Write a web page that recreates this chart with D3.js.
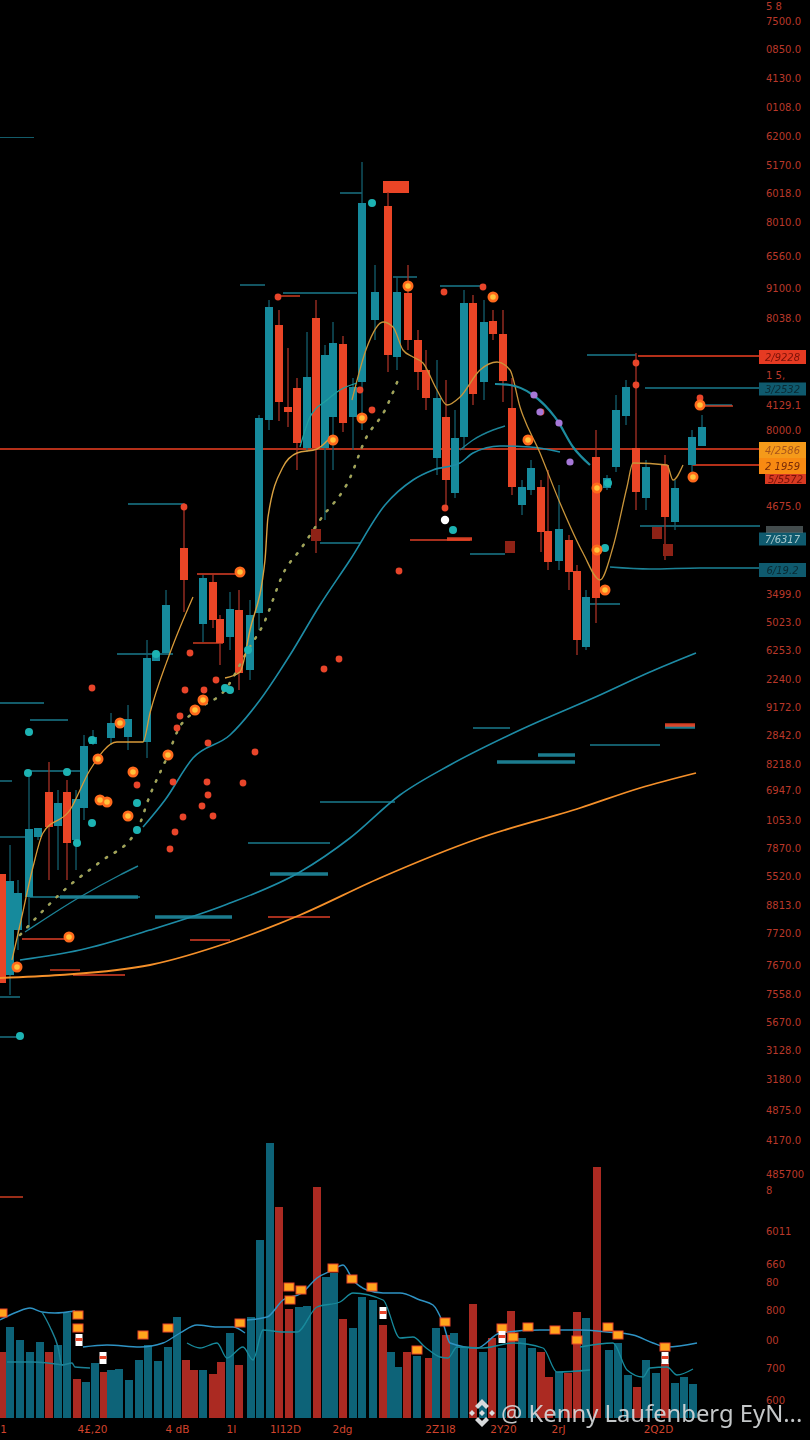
<!DOCTYPE html>
<html><head><meta charset="utf-8">
<style>html,body{margin:0;padding:0;background:#000;overflow:hidden}svg{display:block}</style>
<script src="https://cdn.jsdelivr.net/npm/d3@7/dist/d3.min.js"></script></head>
<body><svg id="c" width="810" height="1440"></svg>
<script>
// ---- candles: time, open, close, high, low (rising = teal, falling = red)
const candleTime=[2,10,18,29,38,49,58,67,76,84,93,111,128,147,156,166,184,203,213,220,230,239,250,259,269,279,288,297,307,316,325,333,343,353,362,375,388,397,408,418,426,437,446,455,464,473,484,493,503,512,522,531,541,548,559,569,577,586,596,607,616,626,636,646,665,675,692,702];
const candleOpen=[566,465,510,543,603,648,614,648,600,632,696,702,703,698,779,787,892,816,858,821,803,830,770,827,1020,1115,1033,1052,992,1122,992,1023,1096,1023,1058,1120,1234,1083,1147,1100,1070,982,1023,947,1003,1137,1058,1119,1106,1032,935,950,953,909,879,900,869,793,983,952,973,1024,992,942,975,918,975,994];
const candleClose=[457,559,547,611,612,613,637,597,641,694,703,717,721,782,786,835,860,862,820,797,831,767,825,1022,1133,1038,1028,997,1063,992,1085,1097,1017,1053,1237,1148,1085,1148,1100,1068,1042,1042,960,1002,1137,1046,1118,1106,1059,953,953,972,908,878,911,868,800,843,842,962,1030,1053,948,973,923,952,1003,1013];
const candleHigh=[566,595,560,670,612,678,650,660,650,705,710,727,735,800,786,850,937,865,866,825,848,850,840,1025,1140,1130,1092,1062,1108,1140,1095,1118,1104,1062,1278,1175,1248,1163,1175,1110,1090,1080,1060,1030,1150,1145,1140,1130,1130,1062,960,980,960,970,955,905,875,850,1010,965,1045,1060,1087,980,985,960,1010,1025];
const candleLow=[457,445,490,510,600,560,570,560,570,620,695,695,690,682,779,786,828,798,812,775,790,750,760,810,1010,1019,1013,970,988,887,920,970,1008,990,1010,1100,1068,1070,1090,1050,1030,965,935,942,990,1035,1040,1100,1038,945,925,945,888,870,870,850,785,790,817,950,968,1015,930,930,880,910,960,1000];

// ---- volume panel
const volTime=[2,10,20,30,40,49,58,67,77,86,95,104,111,119,129,139,148,158,168,177,186,194,203,213,221,230,239,251,260,270,279,289,299,307,317,326,334,343,353,362,373,383,391,398,407,417,429,436,446,454,464,473,483,492,502,511,522,532,541,549,559,568,577,586,597,609,618,628,637,646,656,665,675,684,693];
const volValue=[66,91,78,66,76,66,73,105,39,36,55,46,48,49,38,58,73,57,71,101,58,48,48,44,56,85,53,101,178,275,211,109,111,112,231,141,145,99,90,121,118,93,66,51,66,62,60,90,83,85,70,114,66,80,70,107,80,70,66,41,46,45,106,100,251,68,75,43,31,58,45,55,35,41,34];
const volSide=["r","t","t","t","t","r","t","t","r","t","t","r","t","t","t","t","t","t","t","t","r","r","t","r","r","t","r","t","t","t","r","r","t","t","r","t","t","r","t","t","t","r","t","t","r","t","r","t","r","t","t","r","t","r","t","r","t","t","r","r","t","r","r","t","r","t","t","t","r","t","t","r","t","t","t"];

// ---- moving averages and overlays: [time, level]
const longOrange=[[0,462],[60,465],[150,475],[230,498],[300,525],[380,562],[480,602],[580,632],[640,652],[696,667]];
const midBlue=[[20,480],[80,490],[150,510],[225,535],[300,568],[350,602],[400,645],[450,675],[520,710],[600,745],[650,768],[696,787]];
const tealRise=[[143,613],[165,640],[193,682],[230,705],[260,740],[290,785],[320,835],[350,880],[385,935],[413,960],[433,970],[460,977],[473,987],[500,994],[530,993],[560,988]];
const tealLow=[[25,508],[80,543],[120,565],[138,574]];
const dottedDiag=[[20,505],[70,555],[100,578],[137,610],[150,645],[168,685],[178,710],[197,730],[225,750],[248,790],[263,815],[285,870],[300,890],[320,920],[350,962],[365,1000],[385,1030],[400,1065]];
const shortA=[[12,480],[20,515],[33,573],[43,607],[70,630],[90,670],[117,698],[143,698],[150,727],[170,787],[193,843]];
const shortB=[[225,762],[240,768],[250,810],[265,880],[268,923],[283,973],[297,987],[317,991],[328,1000]];
const shortC=[[352,1040],[367,1093],[383,1118],[393,1113],[403,1090],[413,1083],[423,1077],[437,1050],[447,1035],[460,1043],[480,1070],[497,1078],[510,1070],[520,1033],[540,987],[560,937],[583,887],[600,860],[613,893],[627,953],[633,977],[667,975],[673,960],[683,975]];
const tealShort=[[300,993],[310,1023],[327,1040],[340,1050],[357,1057]];
const tealDesc=[[495,1056],[510,1055],[533,1045],[557,1020],[573,993],[590,975]];
const tealArc=[[460,990],[473,1000],[493,1010],[505,1014]];
const rightTeal=[[610,873],[650,871],[700,872],[760,872]];
const volUpper=[[0,120],[17,128],[30,132],[42,128],[55,127],[75,129]];
const volDrop=[[42,128],[50,113],[58,93],[62,75],[72,77],[75,73],[90,72]];
const volMain=[[83,93],[107,95],[140,93],[163,97],[180,107],[197,115],[217,113],[233,113],[245,107]];
const volMain2=[[247,120],[267,123],[283,140],[302,147],[317,162],[333,170],[343,175],[353,160],[367,150],[383,147],[400,147],[420,140],[433,135],[443,117],[450,97],[477,92],[500,107],[540,110],[580,110],[607,108],[633,105],[653,97],[667,93],[697,97]];
const volTealA=[[7,78],[33,78],[63,75]];
const volTealB=[[187,97],[200,92],[217,97],[227,82],[243,93],[253,80],[263,110],[283,108],[297,108],[317,133],[340,138],[353,147],[383,140],[400,102],[413,103],[425,93],[440,83],[448,82],[457,93],[483,92],[513,97],[543,92],[557,68],[590,70]];
const volTealC=[[580,93],[613,97],[627,70],[643,63],[650,72],[667,73],[677,65],[693,71]];

// ---- horizontal levels: [from, to, level]
const levelTeal=[[0,34,1303],[340,362,1247],[128,184,936],[0,44,737],[30,68,720],[117,173,786],[240,265,1155],[283,357,1147],[393,417,1163],[440,483,1154],[587,636,1085],[645,760,1052],[640,760,914],[700,732,1035],[473,510,712],[590,660,695],[320,395,638],[248,330,597],[30,140,543],[0,20,443],[0,20,403],[320,360,897],[470,505,886],[585,620,836],[0,12,659],[0,28,603],[30,80,669]];
const levelTealThick=[[270,328,566],[155,232,523],[60,138,543],[497,575,678],[538,575,685],[665,695,713]];
const levelRedMain=[[0,760,991],[638,760,1084],[692,760,975]];
const levelRed=[[22,65,501],[190,230,500],[268,330,523],[50,80,470],[73,125,465],[410,470,900],[193,223,797],[197,240,866],[275,300,1144],[705,733,1034],[0,23,243]];
const levelRedThick=[[447,472,901],[665,695,715]];
const blockRed=[[383,409,1253]];

// ---- scattered markers: [time, level]
const redDots=[[92,752],[184,933],[180,724],[177,712],[208,697],[255,688],[207,658],[243,657],[208,645],[202,634],[213,624],[183,623],[175,608],[170,591],[137,655],[173,658],[324,771],[339,781],[399,869],[278,1143],[444,1148],[483,1153],[541,1028],[636,1077],[636,1055],[700,1042],[445,932],[190,787],[216,760],[204,750],[185,750],[360,1050],[372,1030]];
const hotDots=[[98,681],[107,638],[133,668],[128,624],[120,717],[168,685],[195,730],[203,740],[69,503],[17,473],[408,1154],[493,1143],[333,1000],[362,1022],[700,1035],[528,1000],[597,952],[605,850],[597,890],[693,963],[240,868],[100,640]];
const tealDots=[[29,708],[28,667],[67,668],[137,637],[137,610],[77,597],[20,404],[92,700],[92,617],[372,1237],[453,910],[605,892],[608,957],[230,750],[156,786],[248,790],[225,752]];
const purpleDots=[[534,1045],[559,1017],[570,978],[540,1028]];
const whiteDots=[[445,920]];
const darkRects=[[510,893],[657,907],[668,890],[316,905]];
const volHot=[[2,127],[78,125],[78,112],[143,105],[168,112],[240,117],[289,153],[290,140],[301,150],[333,172],[352,161],[372,153],[417,90],[445,118],[513,103],[528,113],[555,110],[577,100],[608,113],[618,105],[665,93],[502,112]];
const volStripe=[[79,100],[103,82],[383,127],[502,103],[665,82]];

// ---- labels
const axisLabels=["5 8","7500.0","0850.0","4130.0","0108.0","6200.0","5170.0","6018.0","8010.0","6560.0","9100.0","8038.0","1 5,","4129.1","8000.0","4675.0","3499.0","5023.0","6253.0","2240.0","9172.0","2842.0","8218.0","6947.0","1053.0","7870.0","5520.0","8813.0","7720.0","7670.0","7558.0","5670.0","3128.0","3180.0","4875.0","4170.0","485700","8","6011","660","80","800","00","700","600"];
const axisLevels=[1434,1419,1391,1362,1333,1304,1275,1247,1218,1184,1152,1122,1065,1035,1010,934,846,818,790,761,733,705,676,650,620,592,564,535,507,475,446,418,390,361,330,300,266,250,209,176,158,130,100,72,40];
const boxLabels=["2/9228","3/2532","4/2586","2 1959","5/5572","7/6317","6/19.2"];
const timeTicks=[3,92,177,231,285,342,440,503,558,658];
const timeLabels=["1","4£,20","4 dB","1I","1I12D","2dg","2Z1I8","2Y20","2rJ","2Q2D"];

// ---- drawing
const width=810,height=1440;
const x=d3.scaleLinear().domain([0,810]).range([0,width]);
const y=d3.scaleLinear().domain([0,1440]).range([height,0]);
const vol=d3.scaleLinear().domain([0,275]).range([1418,1143]);
const col={teal:"#178a9c",red:"#ea4527",volT:"#0f6478",volR:"#ab2a20",thinT:"#1c8296",orange:"#f08a24",blue:"#2f93c4",hot:"#ffa51e"};
const svg=d3.select("#c");
const defs=svg.append("defs");
defs.append("filter").attr("id","soft").attr("x",0).attr("y",0).attr("width",1).attr("height",1).attr("filterUnits","objectBoundingBox")
  .append("feGaussianBlur").attr("stdDeviation",0.45);
svg.append("rect").attr("width",width).attr("height",height).attr("fill","#000");
const g=svg.append("g").attr("filter","url(#soft)");

// volume bars
g.append("g").selectAll("rect").data(volTime).join("rect")
 .attr("x",d=>x(d)-4).attr("width",8)
 .attr("y",(d,i)=>vol(volValue[i])).attr("height",(d,i)=>vol(0)-vol(volValue[i]))
 .attr("fill",(d,i)=>volSide[i]==="r"?col.volR:col.volT);

const line=d3.line().x(d=>x(d[0])).y(d=>y(d[1])).curve(d3.curveMonotoneX);
function path(data,stroke,w,dash,op){
  const p=g.append("path").attr("d",line(data)).attr("fill","none").attr("stroke",stroke).attr("stroke-width",w).attr("opacity",op||1);
  if(dash)p.attr("stroke-dasharray",dash).attr("stroke-linecap","round");
}
function levels(data,stroke,w,op){
  g.append("g").selectAll("line").data(data).join("line")
   .attr("x1",d=>x(d[0])).attr("x2",d=>x(d[1])).attr("y1",d=>y(d[2])).attr("y2",d=>y(d[2]))
   .attr("stroke",stroke).attr("stroke-width",w).attr("opacity",op||1);
}
levels(levelTeal,col.thinT,1.4,.95);
levels(levelTealThick,col.thinT,3.5,.95);
levels(levelRed,col.red,1.4,.95);
levels(levelRedMain,"#f0401f",1.7,1);
levels(levelRedThick,col.red,3.5,.9);
g.append("g").selectAll("rect").data(blockRed).join("rect")
 .attr("x",d=>x(d[0])).attr("width",d=>x(d[1])-x(d[0])).attr("y",d=>y(d[2])-6).attr("height",12).attr("fill",col.red);

// candles
const c=g.append("g").selectAll("g").data(candleTime).join("g");
c.append("line").attr("x1",d=>x(d)).attr("x2",d=>x(d))
 .attr("y1",(d,i)=>y(candleHigh[i])).attr("y2",(d,i)=>y(candleLow[i]))
 .attr("stroke",(d,i)=>candleClose[i]>candleOpen[i]?"#135f6e":"#a83222").attr("stroke-width",1.3);
c.append("rect").attr("x",d=>x(d)-4).attr("width",8)
 .attr("y",(d,i)=>y(Math.max(candleOpen[i],candleClose[i])))
 .attr("height",(d,i)=>Math.abs(y(candleOpen[i])-y(candleClose[i])))
 .attr("fill",(d,i)=>candleClose[i]>candleOpen[i]?col.teal:col.red);

// moving averages
path(longOrange,"#f5902a",1.8);
path(midBlue,"#1f8ca6",1.6);
path(tealRise,"#1f8ca6",1.6);
path(tealLow,col.thinT,1.4);
path(dottedDiag,"#2aa0a0",2.4,"1.5 9");
path(dottedDiag,"#e0a030",2.4,"1.5 9 ",.7);
path(shortA,"#d99a38",1.3);
path(shortB,"#d8a040",1.4);
path(shortC,"#c9953a",1.3);
path(tealShort,"#20a0a0",1.3);
path(tealDesc,"#1f8da0",2.2);
path(tealArc,col.thinT,1.4);
path(rightTeal,col.thinT,1.7);
// volume overlays
path(volUpper,col.blue,1.4);path(volDrop,col.thinT,1.4);path(volMain,col.blue,1.4);path(volMain2,col.blue,1.5);
path(volTealA,col.thinT,1.3);path(volTealB,"#178a9c",1.3);path(volTealC,"#178a9c",1.3);

// markers
function dots(data,fill,r){g.append("g").selectAll("circle").data(data).join("circle")
 .attr("cx",d=>x(d[0])).attr("cy",d=>y(d[1])).attr("r",r).attr("fill",fill);}
dots(redDots,"#e8452a",3.4);
dots(tealDots,"#1fb3b3",4);
dots(hotDots,"#ff6a1c",5.5);
dots(hotDots,"#ffc23a",2.8);
dots(purpleDots,"#a678d8",3.6);
dots(whiteDots,"#ffffff",4.2);
g.append("g").selectAll("rect").data(darkRects).join("rect")
 .attr("x",d=>x(d[0])-5).attr("y",d=>y(d[1])-6).attr("width",10).attr("height",12).attr("fill","#8e2018");
g.append("g").selectAll("rect").data(volHot).join("rect")
 .attr("x",d=>x(d[0])-5).attr("y",d=>y(d[1])-4).attr("width",10).attr("height",8).attr("fill",col.hot).attr("stroke","#e8452a").attr("stroke-width",1);
const stripes=g.append("g").selectAll("g").data(volStripe).join("g");
stripes.append("rect").attr("x",d=>x(d[0])-3.5).attr("y",d=>y(d[1])-6).attr("width",7).attr("height",12).attr("fill","#ffffff");
stripes.append("rect").attr("x",d=>x(d[0])-3.5).attr("y",d=>y(d[1])-2).attr("width",7).attr("height",3).attr("fill","#e8452a");

// axes
const axisColor="#b9382a";
const axisG=svg.append("g").attr("font-family","'DejaVu Sans',sans-serif").attr("font-size",10).attr("fill",axisColor);
axisG.selectAll("text").data(axisLabels).join("text")
 .attr("x",766).attr("y",(d,i)=>y(axisLevels[i])+3.5).text(d=>d);

const timeAxis=d3.axisBottom(d3.scaleOrdinal().domain(timeLabels).range(timeTicks.map(t=>x(t)))).tickSize(0).tickPadding(0);
const tg=svg.append("g").attr("transform","translate(0,1430)").call(timeAxis);
tg.select(".domain").remove();
tg.selectAll("text").attr("font-family","'DejaVu Sans',sans-serif").attr("font-size",10.5).attr("fill","#d0432c").attr("dy","0.3em");

// price tags on the right
const tags=[
 {l:0,lv:1083,h:14,f:"#e63a22",t:"#7a1208",w:47,x0:759},
 {l:1,lv:1051,h:13,f:"#0f5a6e",t:"#0a2a33",w:47,x0:759},
 {l:2,lv:990,h:16,f:"#f59a1a",t:"#a8551a",w:47,x0:759},
 {l:3,lv:974,h:16,f:"#f88a12",t:"#7a2c08",w:47,x0:759},
 {l:4,lv:961,h:10,f:"#d83a22",t:"#7a1208",w:41,x0:765},
 {l:5,lv:901,h:13,f:"#0f5a6e",t:"#a8c8cc",w:47,x0:759},
 {l:6,lv:870,h:14,f:"#0f5a6e",t:"#0a2a33",w:47,x0:759}];
const tagG=svg.append("g").attr("font-family","'DejaVu Sans',sans-serif").attr("font-style","italic");
tagG.selectAll("rect").data(tags).join("rect").attr("x",d=>d.x0).attr("width",d=>d.w)
 .attr("y",d=>y(d.lv)-d.h/2).attr("height",d=>d.h).attr("fill",d=>d.f);
tagG.selectAll("text").data(tags).join("text").attr("x",d=>d.x0+d.w/2).attr("text-anchor","middle")
 .attr("y",d=>y(d.lv)+3.5).attr("font-size",10).attr("fill",d=>d.t).text(d=>boxLabels[d.l]);
svg.append("rect").attr("x",766).attr("y",526).attr("width",37).attr("height",7).attr("fill","#6f7f80").attr("opacity",.6);

// watermark
const wm=svg.append("g");
const logo=wm.append("g").attr("transform","translate(482,1413)").attr("fill","#d8dadc");
logo.append("path").attr("d","M0,-14 L7,-7 L4,-4 L0,-8 L-4,-4 L-7,-7Z M0,14 L7,7 L4,4 L0,8 L-4,4 L-7,7Z M-13,0 L-10,-3 L-7,0 L-10,3Z M13,0 L10,-3 L7,0 L10,3Z M0,-3 L3,0 L0,3 L-3,0Z");
wm.append("text").attr("x",501).attr("y",1422).attr("font-family","'Noto Sans',sans-serif").attr("font-size",23.8).attr("fill","#d5d8da").attr("opacity",.92).text("@ Kenny Laufenberg EyN...");
</script></body></html>
